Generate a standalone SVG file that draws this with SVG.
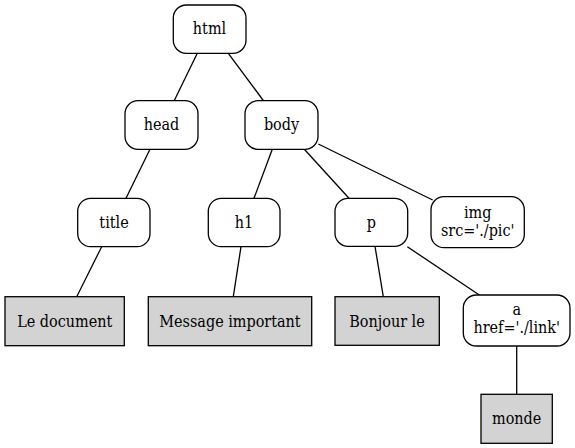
<svg xmlns="http://www.w3.org/2000/svg" width="575" height="448" viewBox="0 0 575 448">
<style>
.r{fill:#fff;stroke:#000;stroke-width:1.3}
.t{fill:#d3d3d3;stroke:#000;stroke-width:1.3}
text{font-family:'DejaVu Serif Condensed','DejaVu Serif',serif;font-stretch:condensed;font-size:16px;text-anchor:middle;fill:#000}
.e line{stroke:#000;stroke-width:1.3}
</style>
<rect width="575" height="448" fill="#fff"/>
<g class="e" id="edges">
<line x1="197.3" y1="53.3" x2="174.3" y2="100.5"/>
<line x1="228.3" y1="53.3" x2="263.3" y2="100.5"/>
<line x1="150" y1="149.3" x2="126" y2="198.3"/>
<line x1="272.3" y1="149.3" x2="254" y2="198.3"/>
<line x1="304.3" y1="149.3" x2="349" y2="198.3"/>
<line x1="318.3" y1="144" x2="432.7" y2="200"/>
<line x1="101.7" y1="246.7" x2="76.7" y2="296.7"/>
<line x1="241" y1="246.7" x2="233.3" y2="296.7"/>
<line x1="375" y1="246.3" x2="383.3" y2="296.7"/>
<line x1="407.3" y1="246.7" x2="479.3" y2="295"/>
<line x1="516.7" y1="346" x2="516.7" y2="394.3"/>
</g>
<g id="html"><rect class="r" x="173.3" y="5" width="72.7" height="48.3" rx="13"/><text x="209.5" y="34.3">html</text></g>
<g id="head"><rect class="r" x="125" y="100.7" width="73" height="48.6" rx="13"/><text x="161.5" y="130.3">head</text></g>
<g id="body"><rect class="r" x="245" y="100.7" width="73" height="48.6" rx="13"/><text x="281.5" y="130.3">body</text></g>
<g id="title"><rect class="r" x="77.7" y="198.3" width="72.3" height="48.4" rx="13"/><text x="114" y="227.8">title</text></g>
<g id="h1"><rect class="r" x="208.3" y="198.3" width="71.7" height="48.4" rx="13"/><text x="244" y="227.8">h1</text></g>
<g id="p"><rect class="r" x="335" y="198.3" width="72.7" height="48" rx="13"/><text x="371.3" y="227.8">p</text></g>
<g id="img"><rect class="r" x="431" y="196.7" width="93.3" height="51" rx="13"/><text x="477.7" y="217.5">img</text><text x="477.7" y="236">src='./pic'</text></g>
<g id="ledoc"><rect class="t" x="5" y="296.7" width="119.3" height="49"/><text x="64.7" y="326.5">Le document</text></g>
<g id="msg"><rect class="t" x="148.3" y="296.7" width="163.4" height="49"/><text x="230" y="326.5">Message important</text></g>
<g id="bonjour"><rect class="t" x="335" y="296.7" width="104.3" height="48.6"/><text x="387" y="326.5">Bonjour le</text></g>
<g id="a"><rect class="r" x="463.3" y="295" width="106.7" height="51" rx="13"/><text x="516.7" y="314.5">a</text><text x="516.7" y="333">href='./link'</text></g>
<g id="monde"><rect class="t" x="481" y="394.3" width="71.3" height="49"/><text x="516.7" y="424">monde</text></g>
</svg>
